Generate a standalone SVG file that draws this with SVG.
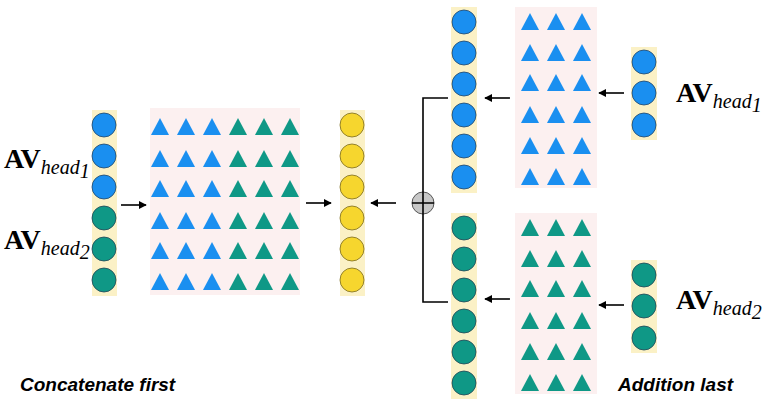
<svg xmlns="http://www.w3.org/2000/svg" xmlns:xlink="http://www.w3.org/1999/xlink" width="763" height="402" viewBox="0 0 763 402">
<style>
.strip{fill:#fbf1c6}.pink{fill:#fcf0f0}
.b{fill:#1a8ff0;stroke:#246;stroke-width:0.8}
.g{fill:#0f9886;stroke:#245;stroke-width:0.8}
.y{fill:#f6d62e;stroke:#7a6a20;stroke-width:0.8}
.tb{fill:#1a8ff0}.tg{fill:#0f9886}
.ln{stroke:#000;stroke-width:1.6;fill:none}
.av{font-family:"Liberation Serif",serif;font-size:28px;font-weight:bold}
.sub{font-family:"Liberation Serif",serif;font-size:20px;font-style:italic;font-weight:normal}
.cap{font-family:"Liberation Sans",Arial,sans-serif;font-size:19px;font-weight:bold;font-style:italic}
</style>
<defs>
<marker id="ah" viewBox="0 0 10 10" refX="9" refY="5" markerWidth="5" markerHeight="5" orient="auto"><path d="M0,0L10,5L0,10z" fill="#000"/></marker>
<path id="tri" d="M0,-9L9,8L-9,8z"/>
</defs>
<g id="left-av">
<rect class="strip" x="92" y="110" width="25" height="186"/>
<circle class="b" cx="104" cy="125" r="12"/><circle class="b" cx="104" cy="156" r="12"/><circle class="b" cx="104" cy="187" r="12"/>
<circle class="g" cx="104" cy="218" r="12"/><circle class="g" cx="104" cy="249" r="12"/><circle class="g" cx="104" cy="280" r="12"/>
<text class="av" x="4" y="168">AV<tspan class="sub" dy="6">head</tspan><tspan class="sub" font-size="13" dy="4">1</tspan></text>
<text class="av" x="4" y="249">AV<tspan class="sub" dy="6">head</tspan><tspan class="sub" font-size="13" dy="4">2</tspan></text>
</g>
<g id="left-matrix">
<rect class="pink" x="150" y="108" width="150" height="187"/>
<g class="tb">
<use href="#tri" x="160" y="127"/><use href="#tri" x="186" y="127"/><use href="#tri" x="212" y="127"/>
<use href="#tri" x="160" y="159"/><use href="#tri" x="186" y="159"/><use href="#tri" x="212" y="159"/>
<use href="#tri" x="160" y="189"/><use href="#tri" x="186" y="189"/><use href="#tri" x="212" y="189"/>
<use href="#tri" x="160" y="221"/><use href="#tri" x="186" y="221"/><use href="#tri" x="212" y="221"/>
<use href="#tri" x="160" y="251"/><use href="#tri" x="186" y="251"/><use href="#tri" x="212" y="251"/>
<use href="#tri" x="160" y="282"/><use href="#tri" x="186" y="282"/><use href="#tri" x="212" y="282"/>
</g>
<g class="tg">
<use href="#tri" x="238" y="127"/><use href="#tri" x="264" y="127"/><use href="#tri" x="290" y="127"/>
<use href="#tri" x="238" y="159"/><use href="#tri" x="264" y="159"/><use href="#tri" x="290" y="159"/>
<use href="#tri" x="238" y="189"/><use href="#tri" x="264" y="189"/><use href="#tri" x="290" y="189"/>
<use href="#tri" x="238" y="221"/><use href="#tri" x="264" y="221"/><use href="#tri" x="290" y="221"/>
<use href="#tri" x="238" y="251"/><use href="#tri" x="264" y="251"/><use href="#tri" x="290" y="251"/>
<use href="#tri" x="238" y="282"/><use href="#tri" x="264" y="282"/><use href="#tri" x="290" y="282"/>
</g>
</g>
<g id="output">
<rect class="strip" x="340" y="110" width="25" height="186"/>
<circle class="y" cx="352" cy="125" r="12"/><circle class="y" cx="352" cy="156" r="12"/><circle class="y" cx="352" cy="187" r="12"/>
<circle class="y" cx="352" cy="218" r="12"/><circle class="y" cx="352" cy="249" r="12"/><circle class="y" cx="352" cy="280" r="12"/>
</g>
<g id="plus">
<circle cx="423" cy="203" r="11" fill="#c8c8c8" stroke="#555" stroke-width="1"/>
<path class="ln" d="M412,203H434M423,192V214" stroke-width="1"/>
</g>
<g id="top-sum">
<rect class="strip" x="451" y="7" width="26" height="186"/>
<circle class="b" cx="464" cy="22" r="12"/><circle class="b" cx="464" cy="53" r="12"/><circle class="b" cx="464" cy="84" r="12"/>
<circle class="b" cx="464" cy="115" r="12"/><circle class="b" cx="464" cy="146" r="12"/><circle class="b" cx="464" cy="177" r="12"/>
</g>
<g id="top-matrix">
<rect class="pink" x="515" y="7" width="82" height="181"/>
<g class="tb">
<use href="#tri" x="530" y="22"/><use href="#tri" x="556" y="22"/><use href="#tri" x="582" y="22"/>
<use href="#tri" x="530" y="53"/><use href="#tri" x="556" y="53"/><use href="#tri" x="582" y="53"/>
<use href="#tri" x="530" y="83"/><use href="#tri" x="556" y="83"/><use href="#tri" x="582" y="83"/>
<use href="#tri" x="530" y="115"/><use href="#tri" x="556" y="115"/><use href="#tri" x="582" y="115"/>
<use href="#tri" x="530" y="146"/><use href="#tri" x="556" y="146"/><use href="#tri" x="582" y="146"/>
<use href="#tri" x="530" y="177"/><use href="#tri" x="556" y="177"/><use href="#tri" x="582" y="177"/>
</g>
</g>
<g id="top-av">
<rect class="strip" x="631" y="47" width="26" height="93"/>
<circle class="b" cx="644" cy="62" r="12"/><circle class="b" cx="644" cy="93" r="12"/><circle class="b" cx="644" cy="125" r="12"/>
<text class="av" x="676" y="102">AV<tspan class="sub" dy="6">head</tspan><tspan class="sub" font-size="13" dy="4">1</tspan></text>
</g>
<g id="bottom-sum">
<rect class="strip" x="451" y="213" width="26" height="186"/>
<circle class="g" cx="464" cy="228" r="12"/><circle class="g" cx="464" cy="259" r="12"/><circle class="g" cx="464" cy="290" r="12"/>
<circle class="g" cx="464" cy="321" r="12"/><circle class="g" cx="464" cy="352" r="12"/><circle class="g" cx="464" cy="383" r="12"/>
</g>
<g id="bottom-matrix">
<rect class="pink" x="515" y="213" width="82" height="181"/>
<g class="tg">
<use href="#tri" x="530" y="228"/><use href="#tri" x="556" y="228"/><use href="#tri" x="582" y="228"/>
<use href="#tri" x="530" y="259"/><use href="#tri" x="556" y="259"/><use href="#tri" x="582" y="259"/>
<use href="#tri" x="530" y="289"/><use href="#tri" x="556" y="289"/><use href="#tri" x="582" y="289"/>
<use href="#tri" x="530" y="321"/><use href="#tri" x="556" y="321"/><use href="#tri" x="582" y="321"/>
<use href="#tri" x="530" y="352"/><use href="#tri" x="556" y="352"/><use href="#tri" x="582" y="352"/>
<use href="#tri" x="530" y="383"/><use href="#tri" x="556" y="383"/><use href="#tri" x="582" y="383"/>
</g>
</g>
<g id="bottom-av">
<rect class="strip" x="631" y="260" width="26" height="93"/>
<circle class="g" cx="644" cy="275" r="12"/><circle class="g" cx="644" cy="306" r="12"/><circle class="g" cx="644" cy="338" r="12"/>
<text class="av" x="676" y="309">AV<tspan class="sub" dy="6">head</tspan><tspan class="sub" font-size="13" dy="4">2</tspan></text>
</g>
<g id="connectors" class="ln">
<line x1="121" y1="205" x2="146" y2="205" marker-end="url(#ah)"/>
<line x1="306" y1="203" x2="331" y2="203" marker-end="url(#ah)"/>
<line x1="396" y1="203" x2="371" y2="203" marker-end="url(#ah)"/>
<line x1="510" y1="98" x2="485" y2="98" marker-end="url(#ah)"/>
<line x1="624" y1="93" x2="599" y2="93" marker-end="url(#ah)"/>
<line x1="510" y1="299" x2="485" y2="299" marker-end="url(#ah)"/>
<line x1="624" y1="305" x2="599" y2="305" marker-end="url(#ah)"/>
<path d="M448,98H423V192M423,214V302H448"/>
</g>
<text class="cap" x="20" y="391">Concatenate first</text>
<text class="cap" x="618" y="391">Addition last</text>
</svg>
